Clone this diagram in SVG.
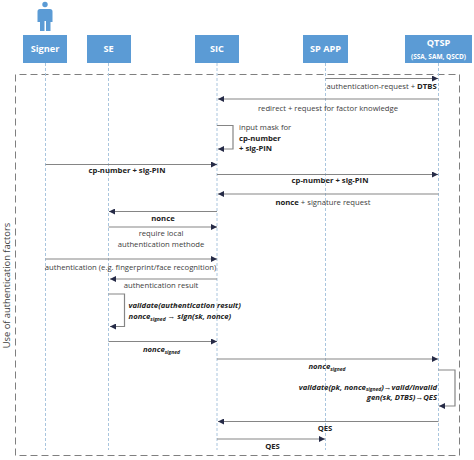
<svg xmlns="http://www.w3.org/2000/svg" width="474" height="460" viewBox="0 0 474 460">
<style>
text{font-family:"Open Sans","Noto Sans","Liberation Sans",sans-serif;font-size:7.7px;fill:#404040}
.b{font-weight:700;fill:#222}
.bi{font-weight:700;font-style:italic;fill:#222}
.c{text-anchor:middle}
.r{text-anchor:end}
.box{fill:#5b9bd5}
.h{fill:#fff;font-weight:700;font-size:9.2px;text-anchor:middle}
.life{stroke:#a9c5de;stroke-width:1;stroke-dasharray:3 2;fill:none}
.msg{stroke:#858585;stroke-width:1.200;fill:none;marker-end:url(#a)}
tspan.s{font-size:5px}
</style>
<defs>
<marker id="a" markerUnits="userSpaceOnUse" markerWidth="7" markerHeight="6" refX="6" refY="3" orient="auto"><path d="M0 0L6 3L0 6Z" fill="#262b47"/></marker>
</defs>
<path id="use-frame" d="M15.500 455.500V74.500H459.500V455.500H15.500" fill="none" stroke="#7f7f7f" stroke-width="1" stroke-dasharray="7 4"/>
<text transform="translate(9.500 285.500) rotate(-90)" class="c" style="font-size:9.300px">Use of authentication factors</text>
<g id="lifelines">
<path class="life" d="M45.500 63V450"/>
<path class="life" d="M108.500 63V450"/>
<path class="life" d="M217 63V450"/>
<path class="life" d="M325.500 63V450"/>
<path class="life" d="M438.500 63V450"/>
</g>
<g id="signer">
<circle cx="45" cy="4.500" r="2.700" fill="#5b9bd5"/>
<path d="M40 9H50Q52.500 9 52.500 11.500V22H50.500V31H46V21H44.500V31H40V22H37.500V11.500Q37.500 9 40 9Z" fill="#5b9bd5"/>
<rect class="box" x="23" y="35" width="44" height="28"/><text class="h" x="45" y="52">Signer</text>
</g>
<g id="se"><rect class="box" x="87" y="35" width="44" height="28"/><text class="h" x="108.500" y="52">SE</text></g>
<g id="sic"><rect class="box" x="195" y="35" width="44" height="28"/><text class="h" x="217" y="52">SIC</text></g>
<g id="sp-app"><rect class="box" x="303" y="35" width="45" height="28"/><text class="h" x="325.500" y="52">SP APP</text></g>
<g id="qtsp"><rect class="box" x="405" y="35" width="67" height="28"/><text class="h" x="438.500" y="46">QTSP</text><text class="h" x="438.500" y="59" style="font-size:6.500px">(SSA, SAM, QSCD)</text></g>
<g id="connectors">
<path class="msg" d="M325.500 78.500H438"/>
<path class="msg" d="M438.500 99H218"/>
<path class="msg" d="M217 125.500H233V149H218"/>
<path class="msg" d="M45.500 164.500H217"/>
<path class="msg" d="M217 174.500H438"/>
<path class="msg" d="M438.500 194H218"/>
<path class="msg" d="M217 211.500H109"/>
<path class="msg" d="M108.500 227H217"/>
<path class="msg" d="M45.500 259H217"/>
<path class="msg" d="M217 279H110"/>
<path class="msg" d="M108.500 294H124.500V326.500H110"/>
<path class="msg" d="M108.500 341.500H217"/>
<path class="msg" d="M217 359H438"/>
<path class="msg" d="M438.500 370H455V406H439"/>
<path class="msg" d="M438.500 421.500H218"/>
<path class="msg" d="M217 439H325"/>
</g>
<g id="labels">
<text x="326.500" y="89">authentication-request + <tspan class="b">DTBS</tspan></text>
<text x="328" y="111" class="c">redirect + request for factor knowledge</text>
<text x="239" y="129.500">input mask for</text>
<text x="239" y="140.500" class="b">cp-number</text>
<text x="239" y="150.500" class="b">+ sig-PIN</text>
<text x="127" y="173" class="c b">cp-number + sig-PIN</text>
<text x="330" y="183" class="c b">cp-number + sig-PIN</text>
<text x="323" y="204.500" class="c"><tspan class="b">nonce</tspan> + signature request</text>
<text x="163" y="221" class="c b">nonce</text>
<text x="161" y="236" class="c">require local</text>
<text x="161" y="247" class="c">authentication methode</text>
<text x="130.500" y="269.500" class="c">authentication (e.g. fingerprint/face recognition)</text>
<text x="161" y="288" class="c">authentication result</text>
<text x="128.500" y="308" class="bi">validate(authentication result)</text>
<text x="128.500" y="319" class="bi">nonce<tspan class="s" dy="1.500">signed</tspan><tspan dy="-1.500"> → sign(sk, nonce)</tspan></text>
<text x="161.500" y="352" class="c bi">nonce<tspan class="s" dy="1.500">signed</tspan></text>
<text x="327" y="369" class="c bi">nonce<tspan class="s" dy="1.500">signed</tspan></text>
<text x="437" y="389.500" class="r bi">validate(pk, nonce<tspan class="s" dy="1.500">signed</tspan><tspan dy="-1.500">)→valid/invalid</tspan></text>
<text x="437" y="400" class="r bi">gen(sk, DTBS)→QES</text>
<text x="325" y="431" class="c b">QES</text>
<text x="272.500" y="448.500" class="c b">QES</text>
</g>
</svg>
